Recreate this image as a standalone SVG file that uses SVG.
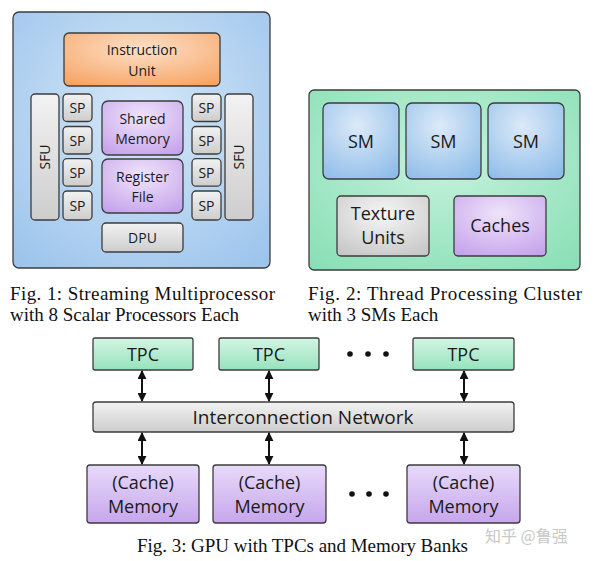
<svg xmlns="http://www.w3.org/2000/svg" width="594" height="561" viewBox="0 0 594 561">
<defs>
<radialGradient id="gBlue" cx="50%" cy="40%" r="75%"><stop offset="0" stop-color="#d6e8f8"/><stop offset="1" stop-color="#9cc4ec"/></radialGradient>
<radialGradient id="gSM" cx="45%" cy="30%" r="80%"><stop offset="0" stop-color="#dceaf8"/><stop offset="1" stop-color="#8fbde9"/></radialGradient>
<radialGradient id="gOrange" cx="50%" cy="30%" r="80%"><stop offset="0" stop-color="#fde0c8"/><stop offset="1" stop-color="#f6a464"/></radialGradient>
<radialGradient id="gPurple" cx="50%" cy="30%" r="80%"><stop offset="0" stop-color="#f0e4fb"/><stop offset="1" stop-color="#c4a2ea"/></radialGradient>
<radialGradient id="gGray" cx="50%" cy="30%" r="80%"><stop offset="0" stop-color="#f6f6f6"/><stop offset="1" stop-color="#c6c6c6"/></radialGradient>
<radialGradient id="gGreen" cx="50%" cy="40%" r="80%"><stop offset="0" stop-color="#c4f2dc"/><stop offset="1" stop-color="#86deb4"/></radialGradient>
<linearGradient id="gGreenL" x1="0" y1="0" x2="0" y2="1"><stop offset="0" stop-color="#d4f5e4"/><stop offset="1" stop-color="#96e2bc"/></linearGradient>
<linearGradient id="gPurpleL" x1="0" y1="0" x2="0" y2="1"><stop offset="0" stop-color="#e8dafa"/><stop offset="1" stop-color="#c6a6ec"/></linearGradient>
<linearGradient id="gGrayL" x1="0" y1="0" x2="0" y2="1"><stop offset="0" stop-color="#f2f2f2"/><stop offset="1" stop-color="#cdcdcd"/></linearGradient>
<marker id="ah" viewBox="0 0 10 10" refX="9" refY="5" markerWidth="4.5" markerHeight="4.5" orient="auto-start-reverse"><path d="M0,0 L10,5 L0,10 z" fill="#111"/></marker>
</defs>
<style>
.b{stroke:#3c3c3c;stroke-width:1.3}
.t{font-family:"Open Sans","Noto Sans",sans-serif;fill:#1a1a1a;text-anchor:middle}
.s14{font-size:14px}
.s18{font-size:18px}
.cap{font-family:"Liberation Serif","Times New Roman",serif;font-size:19px;fill:#111}
.con{stroke:#111;stroke-width:2;fill:none;marker-start:url(#ah);marker-end:url(#ah)}
</style>
<rect width="594" height="561" fill="#fff"/>

<g id="sm-outer"><rect class="b" x="13" y="12" width="257" height="256" rx="6" fill="url(#gBlue)"/></g>
<g id="instruction-unit"><rect class="b" x="64" y="33" width="156" height="53" rx="5" fill="url(#gOrange)"/><text class="t s14" x="142" y="55">Instruction</text><text class="t s14" x="142" y="76">Unit</text></g>
<g id="sfu-left"><rect class="b" x="31" y="94" width="28" height="126" rx="4" fill="url(#gGrayL)"/><text class="t s14" transform="translate(50,157) rotate(-90)">SFU</text></g>
<g id="sfu-right"><rect class="b" x="225" y="94" width="28" height="126" rx="4" fill="url(#gGrayL)"/><text class="t s14" transform="translate(244,157) rotate(-90)">SFU</text></g>
<g id="sp-l1"><rect class="b" x="63" y="94" width="29" height="27.5" rx="4" fill="url(#gGrayL)"/><text class="t s14" x="77.5" y="113">SP</text></g>
<g id="sp-l2"><rect class="b" x="63" y="126.5" width="29" height="27.5" rx="4" fill="url(#gGrayL)"/><text class="t s14" x="77.5" y="145.5">SP</text></g>
<g id="sp-l3"><rect class="b" x="63" y="158.7" width="29" height="27.5" rx="4" fill="url(#gGrayL)"/><text class="t s14" x="77.5" y="177.7">SP</text></g>
<g id="sp-l4"><rect class="b" x="63" y="191" width="29" height="29" rx="4" fill="url(#gGrayL)"/><text class="t s14" x="77.5" y="210.5">SP</text></g>
<g id="sp-r1"><rect class="b" x="192" y="94" width="29" height="27.5" rx="4" fill="url(#gGrayL)"/><text class="t s14" x="206.5" y="113">SP</text></g>
<g id="sp-r2"><rect class="b" x="192" y="126.5" width="29" height="27.5" rx="4" fill="url(#gGrayL)"/><text class="t s14" x="206.5" y="145.5">SP</text></g>
<g id="sp-r3"><rect class="b" x="192" y="158.7" width="29" height="27.5" rx="4" fill="url(#gGrayL)"/><text class="t s14" x="206.5" y="177.7">SP</text></g>
<g id="sp-r4"><rect class="b" x="192" y="191" width="29" height="29" rx="4" fill="url(#gGrayL)"/><text class="t s14" x="206.5" y="210.5">SP</text></g>
<g id="shared-memory"><rect class="b" x="102" y="101" width="81" height="54" rx="6" fill="url(#gPurple)"/><text class="t s14" x="142.5" y="124">Shared</text><text class="t s14" x="142.5" y="144">Memory</text></g>
<g id="register-file"><rect class="b" x="102" y="159" width="81" height="54" rx="6" fill="url(#gPurple)"/><text class="t s14" x="142.5" y="182">Register</text><text class="t s14" x="142.5" y="202">File</text></g>
<g id="dpu"><rect class="b" x="102" y="223" width="81" height="29" rx="4" fill="url(#gGrayL)"/><text class="t s14" x="142.5" y="242.5">DPU</text></g>

<g id="tpc-outer"><rect class="b" x="309" y="90" width="271" height="180" rx="5" fill="url(#gGreen)"/></g>
<g id="sm1"><rect class="b" x="323" y="103" width="76" height="76" rx="6" fill="url(#gSM)"/><text class="t s18" x="361" y="148">SM</text></g>
<g id="sm2"><rect class="b" x="406" y="103" width="75" height="76" rx="6" fill="url(#gSM)"/><text class="t s18" x="443.5" y="148">SM</text></g>
<g id="sm3"><rect class="b" x="488" y="103" width="76" height="76" rx="6" fill="url(#gSM)"/><text class="t s18" x="526" y="148">SM</text></g>
<g id="texture-units"><rect class="b" x="337" y="196" width="92" height="60" rx="4" fill="url(#gGray)"/><text class="t s18" x="383" y="220">Texture</text><text class="t s18" x="383" y="244">Units</text></g>
<g id="caches"><rect class="b" x="454" y="196" width="92" height="60" rx="4" fill="url(#gPurple)"/><text class="t s18" x="500" y="232">Caches</text></g>

<text class="cap" x="10" y="300" textLength="265" lengthAdjust="spacing">Fig. 1: Streaming Multiprocessor</text>
<text class="cap" x="10" y="321">with 8 Scalar Processors Each</text>
<text class="cap" x="308" y="300" textLength="274" lengthAdjust="spacing">Fig. 2: Thread Processing Cluster</text>
<text class="cap" x="308" y="321">with 3 SMs Each</text>

<g id="tpc1"><rect class="b" x="93" y="338" width="100" height="32" rx="2" fill="url(#gGreenL)"/><text class="t s18" x="143" y="361">TPC</text></g>
<g id="tpc2"><rect class="b" x="219" y="338" width="100" height="32" rx="2" fill="url(#gGreenL)"/><text class="t s18" x="269" y="361">TPC</text></g>
<g id="tpc3"><rect class="b" x="413" y="338" width="101" height="32" rx="2" fill="url(#gGreenL)"/><text class="t s18" x="463.5" y="361">TPC</text></g>
<g id="dots-top" fill="#111"><circle cx="350" cy="354" r="2.8"/><circle cx="368" cy="354" r="2.8"/><circle cx="386" cy="354" r="2.8"/></g>
<g id="interconnection"><rect class="b" x="93" y="402" width="421" height="30" rx="3" fill="url(#gGrayL)"/><text class="t" style="font-size:19px" x="303" y="424">Interconnection Network</text></g>
<g id="mem1"><rect class="b" x="87" y="465" width="112" height="58" rx="3" fill="url(#gPurpleL)"/><text class="t s18" x="143" y="489">(Cache)</text><text class="t s18" x="143" y="513">Memory</text></g>
<g id="mem2"><rect class="b" x="213" y="465" width="113" height="58" rx="3" fill="url(#gPurpleL)"/><text class="t s18" x="269.5" y="489">(Cache)</text><text class="t s18" x="269.5" y="513">Memory</text></g>
<g id="mem3"><rect class="b" x="407" y="465" width="113" height="58" rx="3" fill="url(#gPurpleL)"/><text class="t s18" x="463.5" y="489">(Cache)</text><text class="t s18" x="463.5" y="513">Memory</text></g>
<g id="dots-bottom" fill="#111"><circle cx="352" cy="494" r="2.8"/><circle cx="369" cy="494" r="2.8"/><circle cx="386" cy="494" r="2.8"/></g>

<g id="connectors">
<line class="con" x1="142" y1="371" x2="142" y2="401"/>
<line class="con" x1="269" y1="371" x2="269" y2="401"/>
<line class="con" x1="464" y1="371" x2="464" y2="401"/>
<line class="con" x1="142" y1="433" x2="142" y2="464"/>
<line class="con" x1="269" y1="433" x2="269" y2="464"/>
<line class="con" x1="464" y1="433" x2="464" y2="464"/>
</g>

<text class="cap" x="137" y="552" textLength="331" lengthAdjust="spacing">Fig. 3: GPU with TPCs and Memory Banks</text>
<text x="485" y="542" style="font-family:'Noto Sans CJK SC',sans-serif;font-size:16px;fill:#c8c8c8">知乎 @鲁强</text>
</svg>
